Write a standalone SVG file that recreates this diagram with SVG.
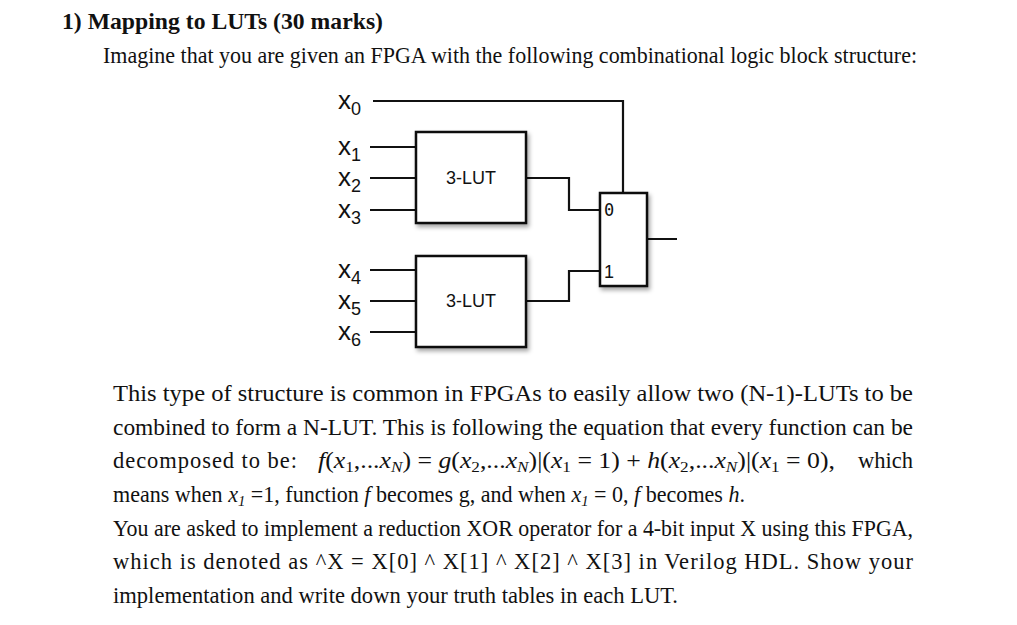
<svg xmlns="http://www.w3.org/2000/svg" width="1017" height="625" viewBox="0 0 1017 625">
<style>
.t{font-family:"Liberation Serif",serif;font-size:22.5px;fill:#111}
.i{font-style:italic}
.s{font-family:"Liberation Sans",Arial,sans-serif;fill:#111}
.w{stroke:#111;stroke-width:2.2;fill:none}
.b{fill:#fff;stroke:#111;stroke-width:2.5}
</style>
<defs><filter id="sh" x="-10%" y="-10%" width="130%" height="130%"><feDropShadow dx="2" dy="3" stdDeviation="2" flood-color="#000" flood-opacity="0.35"/></filter></defs>
<rect width="1017" height="625" fill="#fff"/>
<text class="t" x="62" y="29" font-weight="bold" textLength="321" lengthAdjust="spacingAndGlyphs">1)  Mapping to LUTs (30 marks)</text>
<text class="t" x="103" y="63" textLength="814" lengthAdjust="spacingAndGlyphs">Imagine that you are given an FPGA with the following combinational logic block structure:</text>
<g id="connectors">
<path class="w" d="M373 101H623V193"/>
<path class="w" d="M370 147H416M370 178H416M370 210H416M370 270H416M370 301H416M370 332H416"/>
<path class="w" d="M526 178H569V210H600M526 301H569V271H600M647 239H677"/>
</g>
<g id="labels" class="s" font-size="26">
<text x="338" y="109">x<tspan font-size="18" dy="6">0</tspan></text>
<text x="338" y="155">x<tspan font-size="18" dy="6">1</tspan></text>
<text x="338" y="186">x<tspan font-size="18" dy="6">2</tspan></text>
<text x="338" y="218">x<tspan font-size="18" dy="6">3</tspan></text>
<text x="338" y="278">x<tspan font-size="18" dy="6">4</tspan></text>
<text x="338" y="309">x<tspan font-size="18" dy="6">5</tspan></text>
<text x="338" y="340">x<tspan font-size="18" dy="6">6</tspan></text>
</g>
<g id="lut1"><rect class="b" x="416" y="132" width="110" height="91" filter="url(#sh)"/><text class="s" x="471" y="184" font-size="18" text-anchor="middle">3-LUT</text></g>
<g id="lut2"><rect class="b" x="416" y="256" width="110" height="91" filter="url(#sh)"/><text class="s" x="471" y="307" font-size="18" text-anchor="middle">3-LUT</text></g>
<g id="mux"><rect class="b" x="600" y="193" width="47" height="93" filter="url(#sh)"/>
<text x="604" y="216" font-family="DejaVu Sans Mono,monospace" font-size="17" fill="#111">0</text>
<text x="604" y="278" font-family="Liberation Sans,sans-serif" font-size="18" fill="#111">1</text></g>
<text class="t" x="113" y="401" textLength="800" lengthAdjust="spacingAndGlyphs">This type of structure is common in FPGAs to easily allow two (N-1)-LUTs to be</text>
<text class="t" x="113" y="435" textLength="800" lengthAdjust="spacingAndGlyphs">combined to form a N-LUT. This is following the equation that every function can be</text>
<text class="t" x="113" y="468" textLength="184" lengthAdjust="spacing">decomposed  to  be:</text>
<text class="t" x="318" y="468" font-size="24" textLength="517" lengthAdjust="spacingAndGlyphs"><tspan class="i">f</tspan>(<tspan class="i">x</tspan><tspan font-size="15" dy="4">1</tspan><tspan dy="-4">,...</tspan><tspan class="i">x</tspan><tspan class="i" font-size="15" dy="4">N</tspan><tspan dy="-4">) = </tspan><tspan class="i">g</tspan>(<tspan class="i">x</tspan><tspan font-size="15" dy="4">2</tspan><tspan dy="-4">,...</tspan><tspan class="i">x</tspan><tspan class="i" font-size="15" dy="4">N</tspan><tspan dy="-4">)|(</tspan><tspan class="i">x</tspan><tspan font-size="15" dy="4">1</tspan><tspan dy="-4"> = 1) + </tspan><tspan class="i">h</tspan>(<tspan class="i">x</tspan><tspan font-size="15" dy="4">2</tspan><tspan dy="-4">,...</tspan><tspan class="i">x</tspan><tspan class="i" font-size="15" dy="4">N</tspan><tspan dy="-4">)|(</tspan><tspan class="i">x</tspan><tspan font-size="15" dy="4">1</tspan><tspan dy="-4"> = 0),</tspan></text>
<text class="t" x="913" y="468" text-anchor="end">which</text>
<text class="t" x="113" y="502" textLength="632" lengthAdjust="spacingAndGlyphs">means when <tspan class="i">x</tspan><tspan class="i" font-size="15" dy="4">1</tspan><tspan dy="-4"> =1, function </tspan><tspan class="i">f</tspan> becomes g, and when <tspan class="i">x</tspan><tspan class="i" font-size="15" dy="4">1</tspan><tspan dy="-4"> = 0, </tspan><tspan class="i">f</tspan> becomes <tspan class="i">h</tspan>.</text>
<text class="t" x="113" y="536" textLength="800" lengthAdjust="spacingAndGlyphs">You are asked to implement a reduction XOR operator for a 4-bit input X using this FPGA,</text>
<text class="t" x="113" y="569" textLength="800" lengthAdjust="spacing">which is denoted as ^X = X[0] ^ X[1] ^ X[2] ^ X[3] in Verilog HDL. Show your</text>
<text class="t" x="113" y="603" textLength="565" lengthAdjust="spacingAndGlyphs">implementation and write down your truth tables in each LUT.</text>
</svg>
